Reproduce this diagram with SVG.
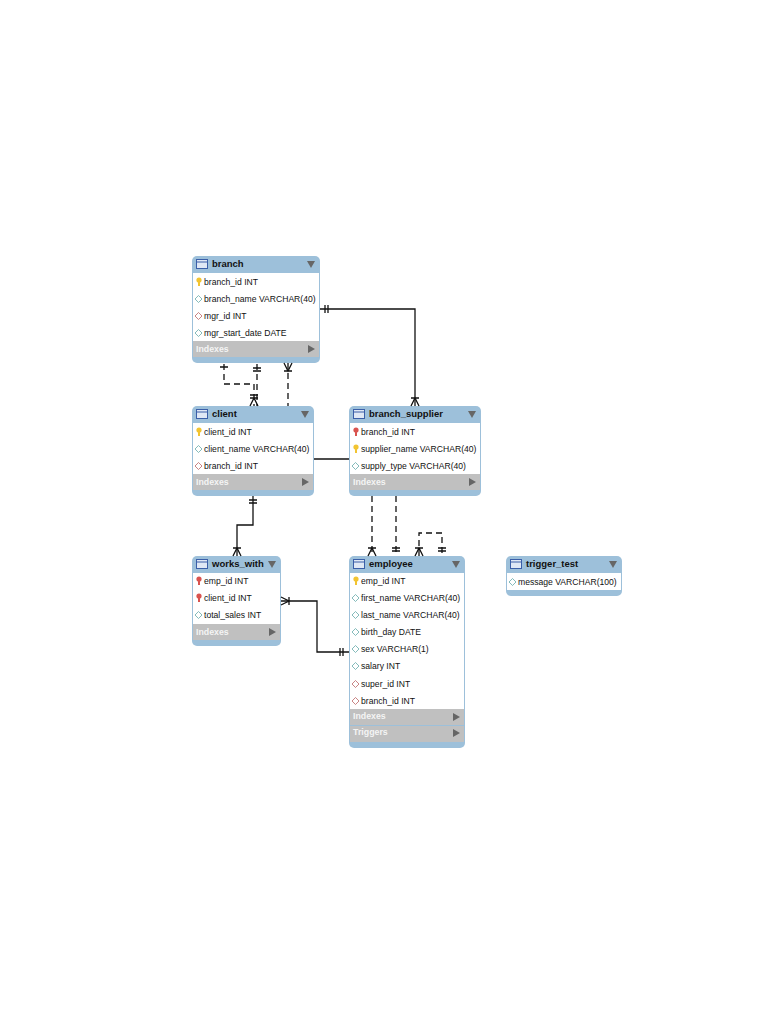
<svg xmlns="http://www.w3.org/2000/svg" width="768" height="1024" viewBox="0 0 768 1024">
<style>
.box{fill:#fff;stroke:#a9bdd0;stroke-width:1}
.hd{fill:#9dc0da}
.ix{fill:#c0c0c0}
.t{font-family:"Liberation Sans",Arial,sans-serif;font-size:8.6px;fill:#111}
.h{font-family:"Liberation Sans",Arial,sans-serif;font-size:9.5px;font-weight:bold;fill:#111}
.it{font-family:"Liberation Sans",Arial,sans-serif;font-size:8.8px;font-weight:bold;fill:#f4f4f4}
.l{fill:none;stroke:#111;stroke-width:1.3}
.d{stroke-dasharray:6,4}
.dm{fill:none;stroke:#6aa;stroke-width:0.8}
.dr{fill:none;stroke:#b66;stroke-width:0.8}
.ky{fill:#f2c431}
.kr{fill:#d9534f}
.ic{fill:#dfe8f5;stroke:#3a5fa8;stroke-width:1}
.tri{fill:#666}
</style>
<defs>
<symbol id="icon" viewBox="0 0 12 10"><rect x="0.5" y="0.5" width="11" height="9" class="ic"/><line x1="0.5" y1="3" x2="11.5" y2="3" stroke="#3a5fa8"/></symbol>
<g id="dmd"><path d="M0,0 L3.5,-3.5 L7,0 L3.5,3.5Z" class="dm"/></g>
<g id="dmr"><path d="M0,0 L3.5,-3.5 L7,0 L3.5,3.5Z" class="dr"/></g>
<g id="keyy"><circle cx="3" cy="-2" r="2.6" class="ky"/><rect x="2" y="-1" width="2" height="5" class="ky"/></g>
<g id="keyr"><circle cx="3" cy="-2" r="2.6" class="kr"/><rect x="2" y="-1" width="2" height="5" class="kr"/></g>
</defs>

<g id="branch">
<rect x="192" y="256" width="128" height="107" rx="5" class="hd"/>
<rect x="193" y="273" width="126" height="68" fill="#fff"/>
<rect x="193" y="341" width="126" height="16" class="ix"/>
<use href="#icon" x="196" y="259" width="12" height="10"/>
<text x="212" y="267" class="h">branch</text><path d="M307,261 h8 l-4,7z" class="tri"/>
<use href="#keyy" x="196" y="282"/><text x="204" y="285" class="t">branch_id INT</text>
<use href="#dmd" x="195" y="299"/><text x="204" y="302" class="t">branch_name VARCHAR(40)</text>
<use href="#dmr" x="195" y="316"/><text x="204" y="319" class="t">mgr_id INT</text>
<use href="#dmd" x="195" y="333"/><text x="204" y="336" class="t">mgr_start_date DATE</text>
<text x="196" y="352" class="it">Indexes</text><path d="M308,345 l7,4 l-7,4z" class="tri"/>
</g>

<g id="client">
<rect x="192" y="406" width="122" height="90" rx="5" class="hd"/>
<rect x="193" y="423" width="120" height="51" fill="#fff"/>
<rect x="193" y="474" width="120" height="16" class="ix"/>
<use href="#icon" x="196" y="409" width="12" height="10"/>
<text x="212" y="417" class="h">client</text><path d="M301,411 h8 l-4,7z" class="tri"/>
<use href="#keyy" x="196" y="432"/><text x="204" y="435" class="t">client_id INT</text>
<use href="#dmd" x="195" y="449"/><text x="204" y="452" class="t">client_name VARCHAR(40)</text>
<use href="#dmr" x="195" y="466"/><text x="204" y="469" class="t">branch_id INT</text>
<text x="196" y="485" class="it">Indexes</text><path d="M302,478 l7,4 l-7,4z" class="tri"/>
</g>

<g id="branch_supplier">
<rect x="349" y="406" width="132" height="90" rx="5" class="hd"/>
<rect x="350" y="423" width="130" height="51" fill="#fff"/>
<rect x="350" y="474" width="130" height="16" class="ix"/>
<use href="#icon" x="353" y="409" width="12" height="10"/>
<text x="369" y="417" class="h">branch_supplier</text><path d="M468,411 h8 l-4,7z" class="tri"/>
<use href="#keyr" x="353" y="432"/><text x="361" y="435" class="t">branch_id INT</text>
<use href="#keyy" x="353" y="449"/><text x="361" y="452" class="t">supplier_name VARCHAR(40)</text>
<use href="#dmd" x="352" y="466"/><text x="361" y="469" class="t">supply_type VARCHAR(40)</text>
<text x="353" y="485" class="it">Indexes</text><path d="M469,478 l7,4 l-7,4z" class="tri"/>
</g>

<g id="works_with">
<rect x="192" y="556" width="89" height="90" rx="5" class="hd"/>
<rect x="193" y="573" width="87" height="51" fill="#fff"/>
<rect x="193" y="624" width="87" height="16" class="ix"/>
<use href="#icon" x="196" y="559" width="12" height="10"/>
<text x="212" y="567" class="h">works_with</text><path d="M268,561 h8 l-4,7z" class="tri"/>
<use href="#keyr" x="196" y="581"/><text x="204" y="584" class="t">emp_id INT</text>
<use href="#keyr" x="196" y="598"/><text x="204" y="601" class="t">client_id INT</text>
<use href="#dmd" x="195" y="615"/><text x="204" y="618" class="t">total_sales INT</text>
<text x="196" y="635" class="it">Indexes</text><path d="M269,628 l7,4 l-7,4z" class="tri"/>
</g>

<g id="employee">
<rect x="349" y="556" width="116" height="192" rx="5" class="hd"/>
<rect x="350" y="573" width="114" height="136" fill="#fff"/>
<rect x="350" y="709" width="114" height="16" class="ix"/>
<rect x="350" y="726" width="114" height="16" class="ix"/>
<use href="#icon" x="353" y="559" width="12" height="10"/>
<text x="369" y="567" class="h">employee</text><path d="M452,561 h8 l-4,7z" class="tri"/>
<use href="#keyy" x="353" y="581"/><text x="361" y="584" class="t">emp_id INT</text>
<use href="#dmd" x="352" y="598"/><text x="361" y="601" class="t">first_name VARCHAR(40)</text>
<use href="#dmd" x="352" y="615"/><text x="361" y="618" class="t">last_name VARCHAR(40)</text>
<use href="#dmd" x="352" y="632"/><text x="361" y="635" class="t">birth_day DATE</text>
<use href="#dmd" x="352" y="649"/><text x="361" y="652" class="t">sex VARCHAR(1)</text>
<use href="#dmd" x="352" y="666"/><text x="361" y="669" class="t">salary INT</text>
<use href="#dmr" x="352" y="684"/><text x="361" y="687" class="t">super_id INT</text>
<use href="#dmr" x="352" y="701"/><text x="361" y="704" class="t">branch_id INT</text>
<text x="353" y="719" class="it">Indexes</text><path d="M453,713 l7,4 l-7,4z" class="tri"/>
<text x="353" y="735" class="it">Triggers</text><path d="M453,729 l7,4 l-7,4z" class="tri"/>
</g>

<g id="trigger_test">
<rect x="506" y="556" width="116" height="40" rx="5" class="hd"/>
<rect x="507" y="573" width="114" height="17" fill="#fff"/>
<use href="#icon" x="510" y="559" width="12" height="10"/>
<text x="526" y="567" class="h">trigger_test</text><path d="M609,561 h8 l-4,7z" class="tri"/>
<use href="#dmd" x="509" y="582"/><text x="518" y="585" class="t">message VARCHAR(100)</text>
</g>

<g id="connectors">
<path d="M320,309 H415 V406" class="l"/>
<path d="M325,305 v8 M328,305 v8 M411,406 l4,-8 l4,8 M411,398 h8" class="l"/>
<path d="M224,364 V384 H254 V406" class="l d"/>
<path d="M220,367 h8 M250,398 h8 M250,395 h8 M250,406 l4,-8 l4,8" class="l"/>
<path d="M257,364 V406" class="l d"/>
<path d="M253,368 h8 M253,371 h8" class="l"/>
<path d="M288,363 V406" class="l d"/>
<path d="M284,363 l4,8 l4,-8 M284,371 h8" class="l"/>
<path d="M314,459 H349" class="l"/>
<path d="M253,496 V525 H237 V556" class="l"/>
<path d="M249,500 h8 M249,503 h8 M233,556 l4,-8 l4,8 M233,548 h8" class="l"/>
<path d="M372,496 V556" class="l d"/>
<path d="M368,556 l4,-8 l4,8 M368,548 h8" class="l"/>
<path d="M396,496 V556" class="l d"/>
<path d="M392,548 h8 M392,551 h8" class="l"/>
<path d="M419,556 V533 H442 V556" class="l d"/>
<path d="M415,556 l4,-8 l4,8 M415,548 h8 M438,548 h8 M438,551 h8" class="l"/>
<path d="M281,601 H317 V652 H349" class="l"/>
<path d="M281,597 l8,4 l-8,4 M289,597 v8 M340,648 v8 M343,648 v8" class="l"/>
</g>
</svg>
